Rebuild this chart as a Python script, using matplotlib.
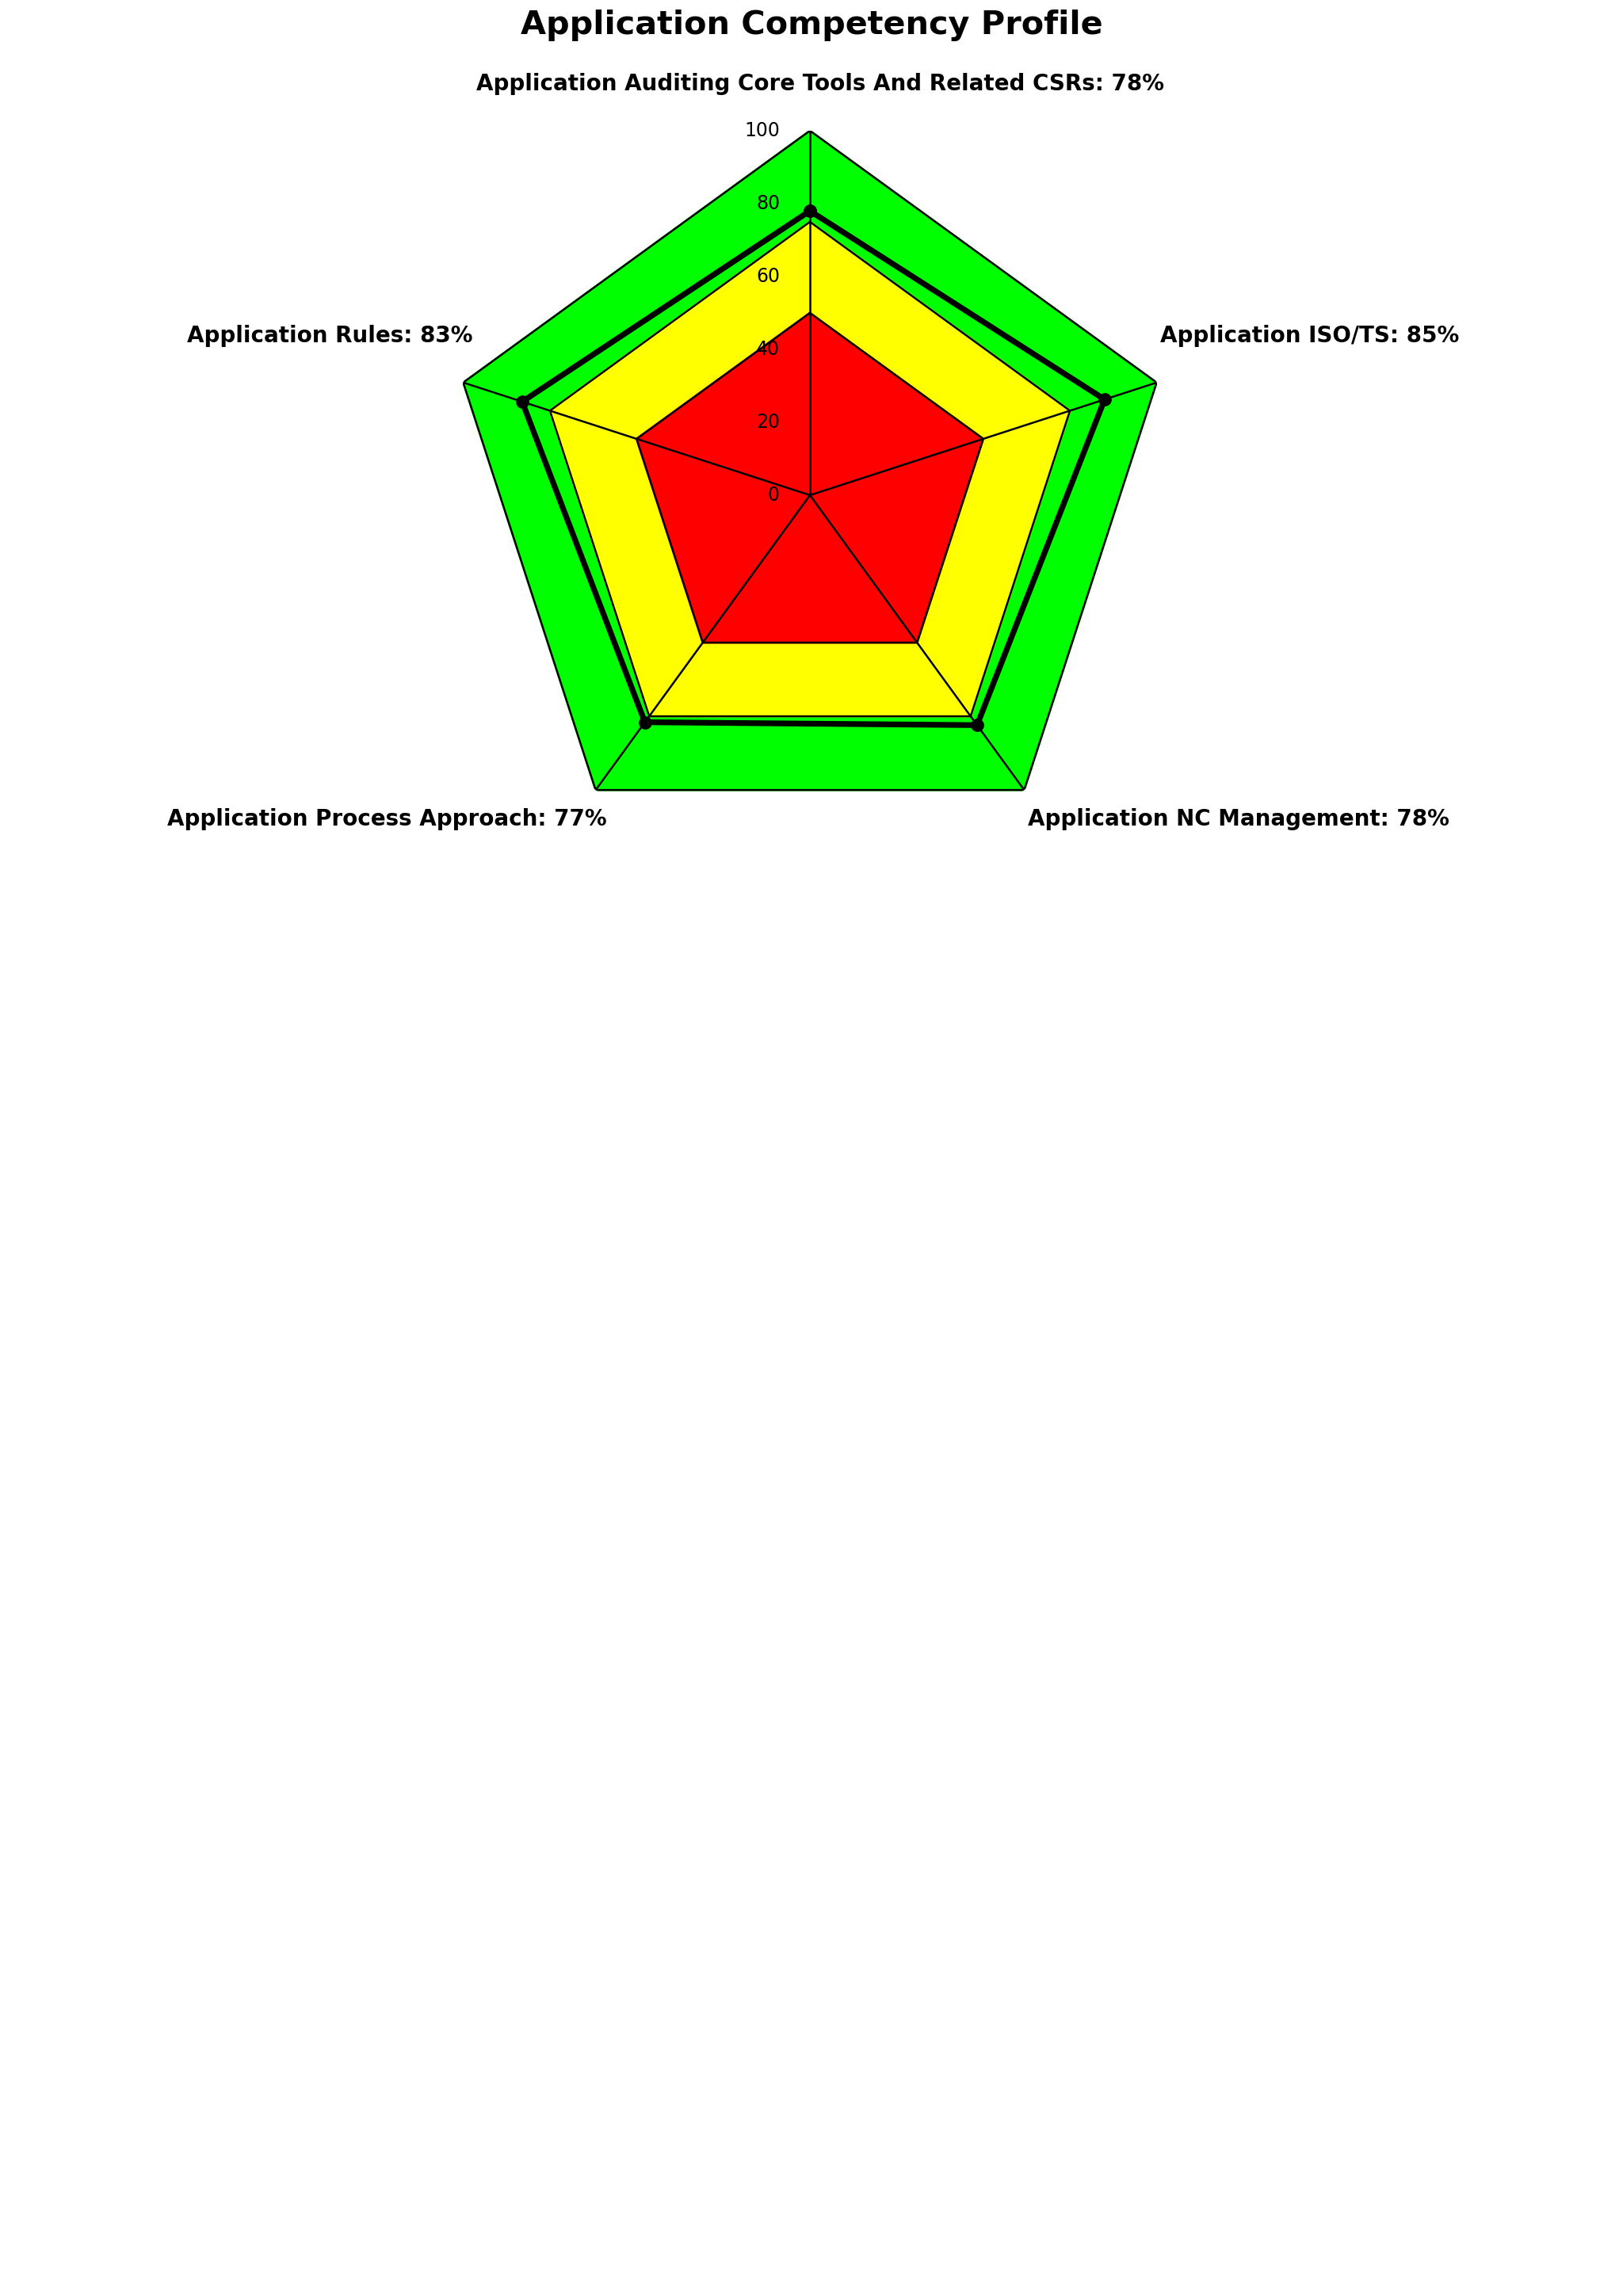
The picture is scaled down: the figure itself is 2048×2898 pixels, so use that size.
import numpy as np
import matplotlib
matplotlib.use("Agg")
import matplotlib.pyplot as plt

# data
categories = ["Application Auditing Core Tools And Related CSRs",
              "Application ISO/TS",
              "Application NC Management",
              "Application Process Approach",
              "Application Rules"]
scores = [78, 85, 78, 77, 83]
band_limits = [100, 75, 50]
band_colors = ["#00ff00", "#ffff00", "#ff0000"]
r_ticks = [0, 20, 40, 60, 80, 100]

plt.rcParams['font.family'] = ['DejaVu Sans']

fig = plt.figure(figsize=(10.24, 14.49), dpi=200, facecolor='white')
W, H = 2048, 2898
cx, cy, rad = 1022, 625, 460
ax = fig.add_axes([(cx - rad) / W, (H - cy - rad) / H, 2 * rad / W, 2 * rad / H],
                  projection='polar')
ax.set_theta_offset(np.pi / 2)
ax.set_theta_direction(-1)
ax.set_ylim(0, 100)
ax.grid(False)
ax.spines['polar'].set_visible(False)
ax.set_xticks([])
ax.set_yticks([])
ax.patch.set_alpha(0)

n = len(categories)
theta = np.arange(n) * 2 * np.pi / n
theta_c = np.append(theta, theta[0])

# colour bands
for lim, col in zip(band_limits, band_colors):
    rr = np.full(n + 1, lim)
    ax.fill(theta_c, rr, color=col, zorder=1)
    ax.plot(theta_c, rr, color='black', lw=0.9, zorder=2)

# spokes
for t in theta:
    ax.plot([t, t], [0, 100], color='black', lw=0.9, zorder=3)

# scores
sc = np.append(scores, scores[0])
ax.plot(theta_c, sc, color='black', lw=2.6, marker='o', ms=5, zorder=4)

# radial tick labels
for r in r_ticks:
    ax.annotate(str(r), xy=(0, r), xytext=(-38, 0), textcoords='offset pixels',
                ha='right', va='center', fontsize=8.5, color='black',
                annotation_clip=False, zorder=5)

# category labels
offsets = [(13, 59, 'center'), (5, 59, 'left'), (5, -37, 'left'),
           (14, -37, 'right'), (12, 59, 'right')]
for t, name, s, (dx, dy, ha) in zip(theta, categories, scores, offsets):
    ax.annotate(f"{name}: {s}%", xy=(t, 100), xytext=(dx, dy),
                textcoords='offset pixels', ha=ha, va='center',
                fontsize=10.0, fontweight='bold', annotation_clip=False)

fig.text(0.5, 1 - 32 / H, "Application Competency Profile", ha='center', va='center',
         fontsize=14.9, fontweight='bold')

fig.savefig("out.png", dpi=200, facecolor='white')
